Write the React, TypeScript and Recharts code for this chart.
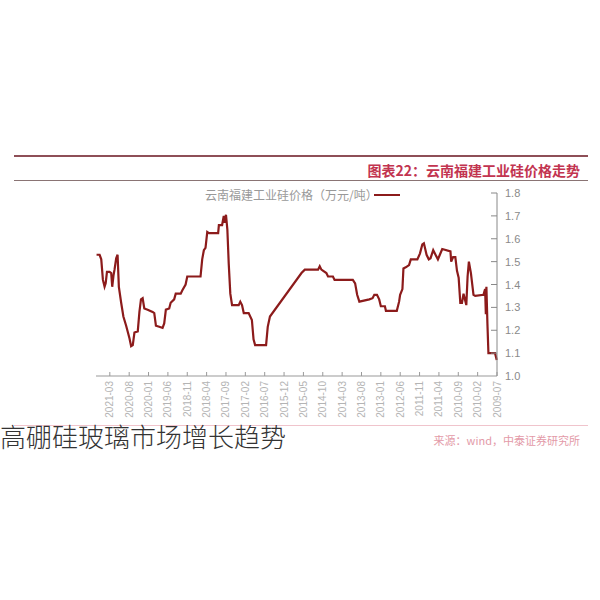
import React from "react";
import { LineChart, Line, XAxis, YAxis } from "recharts";

const seriesName = "云南福建工业硅价格（万元/吨）";
const chartTitle = "图表22：云南福建工业硅价格走势";
const sourceText = "来源：wind，中泰证券研究所";
const captionText = "高硼硅玻璃市场增长趋势";

const dates: string[] = [
  "2009-07-04", "2009-07-22", "2009-10-04", "2009-10-15", "2009-10-26", "2009-11-02", "2009-11-10", "2009-11-28",
  "2010-02-27", "2010-03-16", "2010-04-14", "2010-05-06", "2010-05-20", "2010-06-04", "2010-07-04", "2010-07-21",
  "2010-08-09", "2010-08-27", "2010-09-15", "2010-10-03", "2010-10-27", "2010-11-18", "2010-11-26", "2011-02-25",
  "2011-03-21", "2011-04-12", "2011-05-08", "2011-06-03", "2011-07-02", "2011-07-21", "2011-08-15", "2011-09-14",
  "2011-10-01", "2011-10-27", "2011-11-25", "2012-02-06", "2012-02-25", "2012-04-01", "2012-04-26", "2012-05-07",
  "2012-06-02", "2012-06-13", "2012-07-08", "2012-11-06", "2012-11-17", "2013-01-01", "2013-01-19", "2013-02-13",
  "2013-03-12", "2013-04-01", "2013-05-06", "2013-08-24", "2013-09-18", "2013-10-10", "2013-11-05", "2014-05-23",
  "2014-06-11", "2014-08-04", "2014-08-22", "2014-10-16", "2014-11-04", "2014-11-22", "2015-04-16", "2015-05-22",
  "2016-05-04", "2016-05-28", "2016-06-16", "2016-10-15", "2016-11-02", "2016-11-20", "2016-12-25", "2017-02-18",
  "2017-03-07", "2017-03-26", "2017-04-13", "2017-06-25", "2017-07-14", "2017-08-01", "2017-08-16", "2017-09-01",
  "2017-09-14", "2017-09-25", "2017-10-13", "2017-11-18", "2017-11-26", "2018-03-06", "2018-03-24", "2018-04-13",
  "2018-05-01", "2018-05-19", "2018-06-07", "2018-11-01", "2018-11-19", "2018-12-24", "2019-01-12", "2019-03-06",
  "2019-03-23", "2019-05-01", "2019-05-17", "2019-06-23", "2019-07-11", "2019-07-29", "2019-09-05", "2019-10-11",
  "2019-10-29", "2019-11-17", "2020-01-11", "2020-02-17", "2020-03-05", "2020-03-23", "2020-04-10", "2020-04-28",
  "2020-06-04", "2020-06-22", "2020-07-10", "2020-07-28", "2020-09-04", "2020-10-04", "2020-10-28", "2020-11-23",
  "2020-12-07", "2020-12-22", "2021-01-10", "2021-01-21", "2021-02-05", "2021-02-16", "2021-03-04", "2021-04-02",
  "2021-04-16", "2021-04-28", "2021-05-16", "2021-06-04", "2021-06-22", "2021-07-25",
];

const prices: number[] = [
  1.07, 1.10, 1.10, 1.23, 1.39, 1.27, 1.38, 1.355,
  1.35, 1.355, 1.45, 1.50, 1.435, 1.31, 1.36, 1.32,
  1.32, 1.43, 1.46, 1.52, 1.52, 1.50, 1.545, 1.555,
  1.53, 1.51, 1.53, 1.55, 1.515, 1.51, 1.53, 1.58,
  1.575, 1.535, 1.51, 1.51, 1.485, 1.475, 1.47, 1.38,
  1.355, 1.325, 1.285, 1.285, 1.305, 1.305, 1.335, 1.355,
  1.355, 1.34, 1.335, 1.325, 1.355, 1.405, 1.42, 1.42,
  1.435, 1.435, 1.45, 1.465, 1.48, 1.465, 1.465, 1.45,
  1.26, 1.215, 1.135, 1.135, 1.16, 1.245, 1.275, 1.275,
  1.31, 1.325, 1.31, 1.31, 1.36, 1.49, 1.64, 1.705,
  1.67, 1.70, 1.66, 1.66, 1.625, 1.625, 1.63, 1.56,
  1.55, 1.51, 1.435, 1.435, 1.40, 1.375, 1.36, 1.36,
  1.335, 1.32, 1.295, 1.29, 1.23, 1.21, 1.215, 1.22,
  1.275, 1.28, 1.29, 1.295, 1.34, 1.335, 1.28, 1.195,
  1.19, 1.135, 1.13, 1.165, 1.22, 1.26, 1.32, 1.39,
  1.53, 1.515, 1.465, 1.44, 1.39, 1.45, 1.455, 1.455,
  1.405, 1.39, 1.42, 1.51, 1.53, 1.53,
];

const xTickLabels: string[] = [
  "2009-07", "2010-02", "2010-09", "2011-04", "2011-11", "2012-06", "2013-01",
  "2013-08", "2014-03", "2014-10", "2015-05", "2015-12", "2016-07", "2017-02",
  "2017-09", "2018-04", "2018-11", "2019-06", "2020-01", "2020-08", "2021-03",
];

const yTicks: number[] = [1.0, 1.1, 1.2, 1.3, 1.4, 1.5, 1.6, 1.7, 1.8];

// months elapsed since 2009-07
const toT = (s: string): number => {
  const [y, m, d] = s.split("-").map(Number);
  return (y - 2009) * 12 + (m - 7) + ((d || 1) - 1) / 30;
};

const data = dates.map((d, i) => ({ t: toT(d), price: prices[i] }));
const xTicks = xTickLabels.map(toT);
const labelFor = (t: number): string => {
  const i = xTicks.findIndex((v) => Math.abs(v - t) < 1e-6);
  return i >= 0 ? xTickLabels[i] : "";
};

const XTick = (props: any) => {
  const { x, y, payload } = props;
  return (
    <g>
      <line x1={x} x2={x} y1={y - 4} y2={y} stroke="#999" strokeWidth={1} />
      <text
        x={x}
        y={y}
        dx={-5}
        dy={3.5}
        transform={`rotate(-90 ${x} ${y})`}
        textAnchor="end"
        fontSize={10}
        fontFamily="Liberation Sans, Arial, sans-serif"
        fill="#b4b4b4"
      >
        {labelFor(payload.value)}
      </text>
    </g>
  );
};

const YTick = (props: any) => {
  const { x, y, payload } = props;
  return (
    <g>
      {payload.value > 1.0 ? (
        <line x1={x - 6} x2={x} y1={y} y2={y} stroke="#888" strokeWidth={1} />
      ) : null}
      <text
        x={x + 8}
        y={y}
        dy={4}
        textAnchor="start"
        fontSize={11}
        fontFamily="Liberation Sans, Arial, sans-serif"
        fill="#8a8a8a"
      >
        {Number(payload.value).toFixed(1)}
      </text>
    </g>
  );
};

export default function App() {
  return (
    <div
      style={{
        position: "absolute",
        left: 0,
        top: 0,
        width: 600,
        height: 600,
        background: "#fff",
        overflow: "hidden",
        fontFamily: "'Noto Sans CJK SC', sans-serif",
      }}
    >
      {/* header rules */}
      <div style={{ position: "absolute", left: 14, top: 155, width: 574, height: 2, background: "#8e4f57" }} />
      <div style={{ position: "absolute", left: 14, top: 180, width: 574, height: 1, background: "#8a7474" }} />
      <div
        style={{
          position: "absolute",
          right: 20,
          top: 160,
          fontSize: 14,
          fontWeight: 700,
          color: "#c23450",
          whiteSpace: "nowrap",
          lineHeight: "20px",
        }}
      >
        {chartTitle}
      </div>

      {/* legend */}
      <div
        style={{
          position: "absolute",
          left: 205,
          top: 186,
          width: 168,
          textAlign: "right",
          fontSize: 12,
          color: "#999",
          whiteSpace: "nowrap",
          lineHeight: "18px",
        }}
      >
        {seriesName}
      </div>
      <div style={{ position: "absolute", left: 374, top: 194, width: 26, height: 2, background: "#8c1b1b" }} />

      <div style={{ position: "absolute", left: 0, top: 0 }}>
        <LineChart
          width={600}
          height={600}
          data={data}
          margin={{ top: 193, right: 63, left: 96, bottom: 174 }}
        >
          <XAxis
            dataKey="t"
            type="number"
            domain={[0, 145]}
            reversed
            ticks={xTicks}
            interval={0}
            tick={<XTick />}
            tickLine={false}
            tickSize={0}
            tickMargin={0}
            height={50}
            axisLine={{ stroke: "#999" }}
          />
          <YAxis
            orientation="right"
            domain={[1.0, 1.8]}
            ticks={yTicks}
            interval={0}
            tick={<YTick />}
            tickLine={false}
            tickSize={0}
            tickMargin={0}
            width={40}
            axisLine={{ stroke: "#888" }}
          />
          <Line
            type="linear"
            dataKey="price"
            stroke="#8c1b1b"
            strokeWidth={2.2}
            dot={false}
            isAnimationActive={false}
          />
        </LineChart>
      </div>

      {/* footer rule and source */}
      <div style={{ position: "absolute", left: 14, top: 425, width: 574, height: 1, background: "#f0c4cc" }} />
      <div
        style={{
          position: "absolute",
          right: 20,
          top: 432,
          fontSize: 11,
          color: "#e39aa8",
          whiteSpace: "nowrap",
          lineHeight: "16px",
        }}
      >
        {sourceText}
      </div>
      <div
        style={{
          position: "absolute",
          left: 0,
          top: 419,
          fontSize: 26,
          color: "#333",
          whiteSpace: "nowrap",
          lineHeight: "34px",
          fontWeight: 300,
        }}
      >
        {captionText}
      </div>
    </div>
  );
}
